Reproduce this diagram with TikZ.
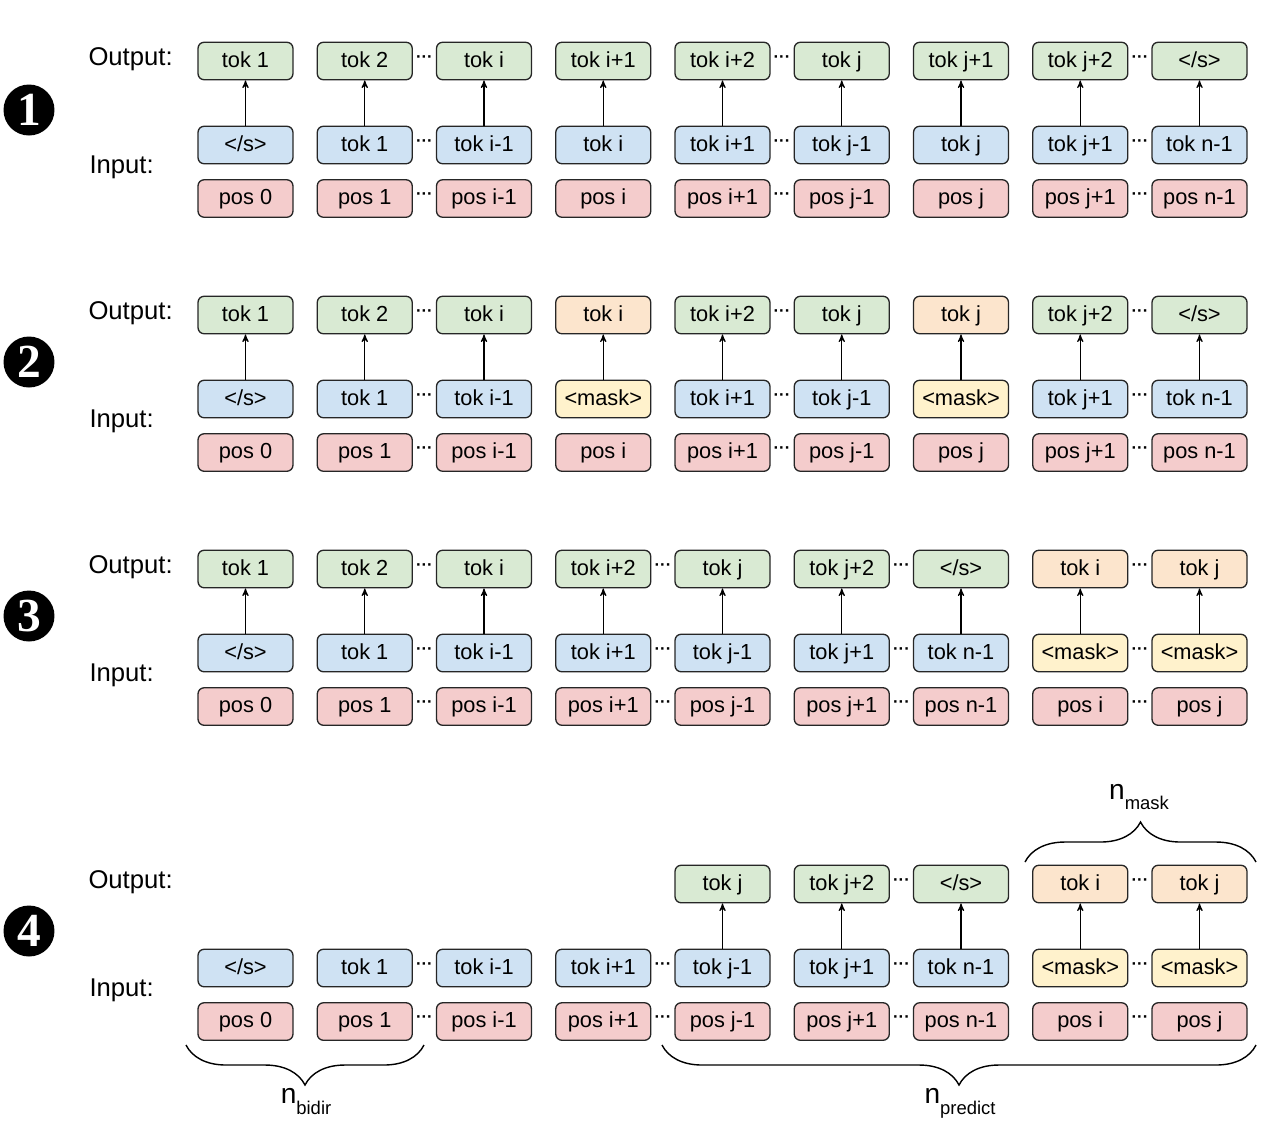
\documentclass[tikz,border=0pt]{standalone}
\usepackage{fontspec}
\setmainfont{Liberation Sans}
\newfontfamily\numfont{Liberation Serif}
\usepackage{tikz}
\usetikzlibrary{positioning, arrows, shapes.geometric, decorations.pathreplacing}
\usepackage{xcolor}
\definecolor{outgreen}{HTML}{D9EAD3}
\definecolor{tokblue}{HTML}{CFE2F3}
\definecolor{pospink}{HTML}{F4CCCC}
\definecolor{predorange}{HTML}{FCE5CD}
\definecolor{maskyellow}{HTML}{FFF2CC}

\begin{document}
\begin{tikzpicture}
		[->,>=stealth',semithick,x=0.02cm,y=-0.02cm,
		box/.style={rectangle,draw=black!85,line width=0.75pt,rounded corners=3.5pt,minimum width=1.9cm,minimum height=0.75cm,inner sep=0pt,text height=0.72em,text depth=0pt,font=\fontsize{12.4}{14}\selectfont},
		outbox/.style={box,fill=outgreen},
		inbox/.style={box,fill=tokblue},
		posbox/.style={box,fill=pospink},
		predbox/.style={box,fill=predorange},
		maskbox/.style={box,fill=maskyellow},
		dots/.style={inner sep=0pt,font=\bfseries\fontsize{9.5}{9.5}\selectfont},
		rowlabel/.style={anchor=base west,inner sep=0pt,font=\fontsize{14.6}{17}\selectfont},
		numdot/.style={circle,fill=black,minimum size=1.02cm,inner sep=0pt,text=white,font=\numfont\bfseries\fontsize{27}{27}\selectfont},
		sublabel/.style={anchor=base,font=\fontsize{16}{18}\selectfont},
		bracket/.style={-,decorate,decoration={brace,amplitude=0.8cm},line width=0.8pt}]
		\useasboundingbox (0,0) rectangle (1266,1127);
		
		% panel 1
		\node[numdot] (n1) at (29, 110) {1};
		\node[rowlabel] (lo1) at (88, 65.5) {Output:};
		\node[rowlabel] (li1) at (89, 173) {Input:};
		\node[outbox] (o1-1) at (245.5, 61) {tok 1};
		\node[outbox] (o1-2) at (364.75, 61) {tok 2};
		\node[outbox] (o1-3) at (484, 61) {tok i};
		\node[outbox] (o1-4) at (603.25, 61) {tok i+1};
		\node[outbox] (o1-5) at (722.5, 61) {tok i+2};
		\node[outbox] (o1-6) at (841.75, 61) {tok j};
		\node[outbox] (o1-7) at (961, 61) {tok j+1};
		\node[outbox] (o1-8) at (1080.25, 61) {tok j+2};
		\node[outbox] (o1-9) at (1199.5, 61) {</s>};
		\node[inbox] (t1-1) at (245.5, 145) {</s>};
		\node[inbox] (t1-2) at (364.75, 145) {tok 1};
		\node[inbox] (t1-3) at (484, 145) {tok i-1};
		\node[inbox] (t1-4) at (603.25, 145) {tok i};
		\node[inbox] (t1-5) at (722.5, 145) {tok i+1};
		\node[inbox] (t1-6) at (841.75, 145) {tok j-1};
		\node[inbox] (t1-7) at (961, 145) {tok j};
		\node[inbox] (t1-8) at (1080.25, 145) {tok j+1};
		\node[inbox] (t1-9) at (1199.5, 145) {tok n-1};
		\node[posbox] (p1-1) at (245.5, 198.5) {pos 0};
		\node[posbox] (p1-2) at (364.75, 198.5) {pos 1};
		\node[posbox] (p1-3) at (484, 198.5) {pos i-1};
		\node[posbox] (p1-4) at (603.25, 198.5) {pos i};
		\node[posbox] (p1-5) at (722.5, 198.5) {pos i+1};
		\node[posbox] (p1-6) at (841.75, 198.5) {pos j-1};
		\node[posbox] (p1-7) at (961, 198.5) {pos j};
		\node[posbox] (p1-8) at (1080.25, 198.5) {pos j+1};
		\node[posbox] (p1-9) at (1199.5, 198.5) {pos n-1};
		\node[dots] (d1o1) at (424.4, 59) {···};
		\node[dots] (d1o2) at (782, 59) {···};
		\node[dots] (d1o3) at (1140, 59) {···};
		\node[dots] (d1t1) at (424.4, 143) {···};
		\node[dots] (d1t2) at (782, 143) {···};
		\node[dots] (d1t3) at (1140, 143) {···};
		\node[dots] (d1p1) at (424.4, 196.5) {···};
		\node[dots] (d1p2) at (782, 196.5) {···};
		\node[dots] (d1p3) at (1140, 196.5) {···};
		
		\path (t1-1) edge (o1-1);
		\path (t1-2) edge (o1-2);
		\path (t1-3) edge (o1-3);
		\path (t1-4) edge (o1-4);
		\path (t1-5) edge (o1-5);
		\path (t1-6) edge (o1-6);
		\path (t1-7) edge (o1-7);
		\path (t1-8) edge (o1-8);
		\path (t1-9) edge (o1-9);
		
		% panel 2
		\node[numdot] (n2) at (29, 362) {2};
		\node[rowlabel] (lo2) at (88, 319.5) {Output:};
		\node[rowlabel] (li2) at (89, 427) {Input:};
		\node[outbox] (o2-1) at (245.5, 315) {tok 1};
		\node[outbox] (o2-2) at (364.75, 315) {tok 2};
		\node[outbox] (o2-3) at (484, 315) {tok i};
		\node[predbox] (o2-4) at (603.25, 315) {tok i};
		\node[outbox] (o2-5) at (722.5, 315) {tok i+2};
		\node[outbox] (o2-6) at (841.75, 315) {tok j};
		\node[predbox] (o2-7) at (961, 315) {tok j};
		\node[outbox] (o2-8) at (1080.25, 315) {tok j+2};
		\node[outbox] (o2-9) at (1199.5, 315) {</s>};
		\node[inbox] (t2-1) at (245.5, 399) {</s>};
		\node[inbox] (t2-2) at (364.75, 399) {tok 1};
		\node[inbox] (t2-3) at (484, 399) {tok i-1};
		\node[maskbox] (t2-4) at (603.25, 399) {<mask>};
		\node[inbox] (t2-5) at (722.5, 399) {tok i+1};
		\node[inbox] (t2-6) at (841.75, 399) {tok j-1};
		\node[maskbox] (t2-7) at (961, 399) {<mask>};
		\node[inbox] (t2-8) at (1080.25, 399) {tok j+1};
		\node[inbox] (t2-9) at (1199.5, 399) {tok n-1};
		\node[posbox] (p2-1) at (245.5, 452.5) {pos 0};
		\node[posbox] (p2-2) at (364.75, 452.5) {pos 1};
		\node[posbox] (p2-3) at (484, 452.5) {pos i-1};
		\node[posbox] (p2-4) at (603.25, 452.5) {pos i};
		\node[posbox] (p2-5) at (722.5, 452.5) {pos i+1};
		\node[posbox] (p2-6) at (841.75, 452.5) {pos j-1};
		\node[posbox] (p2-7) at (961, 452.5) {pos j};
		\node[posbox] (p2-8) at (1080.25, 452.5) {pos j+1};
		\node[posbox] (p2-9) at (1199.5, 452.5) {pos n-1};
		\node[dots] (d2o1) at (424.4, 313) {···};
		\node[dots] (d2o2) at (782, 313) {···};
		\node[dots] (d2o3) at (1140, 313) {···};
		\node[dots] (d2t1) at (424.4, 397) {···};
		\node[dots] (d2t2) at (782, 397) {···};
		\node[dots] (d2t3) at (1140, 397) {···};
		\node[dots] (d2p1) at (424.4, 450.5) {···};
		\node[dots] (d2p2) at (782, 450.5) {···};
		\node[dots] (d2p3) at (1140, 450.5) {···};
		
		\path (t2-1) edge (o2-1);
		\path (t2-2) edge (o2-2);
		\path (t2-3) edge (o2-3);
		\path (t2-4) edge (o2-4);
		\path (t2-5) edge (o2-5);
		\path (t2-6) edge (o2-6);
		\path (t2-7) edge (o2-7);
		\path (t2-8) edge (o2-8);
		\path (t2-9) edge (o2-9);
		
		% panel 3
		\node[numdot] (n3) at (29, 616) {3};
		\node[rowlabel] (lo3) at (88, 573.5) {Output:};
		\node[rowlabel] (li3) at (89, 681) {Input:};
		\node[outbox] (o3-1) at (245.5, 569) {tok 1};
		\node[outbox] (o3-2) at (364.75, 569) {tok 2};
		\node[outbox] (o3-3) at (484, 569) {tok i};
		\node[outbox] (o3-4) at (603.25, 569) {tok i+2};
		\node[outbox] (o3-5) at (722.5, 569) {tok j};
		\node[outbox] (o3-6) at (841.75, 569) {tok j+2};
		\node[outbox] (o3-7) at (961, 569) {</s>};
		\node[predbox] (o3-8) at (1080.25, 569) {tok i};
		\node[predbox] (o3-9) at (1199.5, 569) {tok j};
		\node[inbox] (t3-1) at (245.5, 653) {</s>};
		\node[inbox] (t3-2) at (364.75, 653) {tok 1};
		\node[inbox] (t3-3) at (484, 653) {tok i-1};
		\node[inbox] (t3-4) at (603.25, 653) {tok i+1};
		\node[inbox] (t3-5) at (722.5, 653) {tok j-1};
		\node[inbox] (t3-6) at (841.75, 653) {tok j+1};
		\node[inbox] (t3-7) at (961, 653) {tok n-1};
		\node[maskbox] (t3-8) at (1080.25, 653) {<mask>};
		\node[maskbox] (t3-9) at (1199.5, 653) {<mask>};
		\node[posbox] (p3-1) at (245.5, 706.5) {pos 0};
		\node[posbox] (p3-2) at (364.75, 706.5) {pos 1};
		\node[posbox] (p3-3) at (484, 706.5) {pos i-1};
		\node[posbox] (p3-4) at (603.25, 706.5) {pos i+1};
		\node[posbox] (p3-5) at (722.5, 706.5) {pos j-1};
		\node[posbox] (p3-6) at (841.75, 706.5) {pos j+1};
		\node[posbox] (p3-7) at (961, 706.5) {pos n-1};
		\node[posbox] (p3-8) at (1080.25, 706.5) {pos i};
		\node[posbox] (p3-9) at (1199.5, 706.5) {pos j};
		\node[dots] (d3o1) at (424.4, 567) {···};
		\node[dots] (d3o2) at (663, 567) {···};
		\node[dots] (d3o3) at (901.5, 567) {···};
		\node[dots] (d3o4) at (1140, 567) {···};
		\node[dots] (d3t1) at (424.4, 651) {···};
		\node[dots] (d3t2) at (663, 651) {···};
		\node[dots] (d3t3) at (901.5, 651) {···};
		\node[dots] (d3t4) at (1140, 651) {···};
		\node[dots] (d3p1) at (424.4, 704.5) {···};
		\node[dots] (d3p2) at (663, 704.5) {···};
		\node[dots] (d3p3) at (901.5, 704.5) {···};
		\node[dots] (d3p4) at (1140, 704.5) {···};
		
		\path (t3-1) edge (o3-1);
		\path (t3-2) edge (o3-2);
		\path (t3-3) edge (o3-3);
		\path (t3-4) edge (o3-4);
		\path (t3-5) edge (o3-5);
		\path (t3-6) edge (o3-6);
		\path (t3-7) edge (o3-7);
		\path (t3-8) edge (o3-8);
		\path (t3-9) edge (o3-9);
		
		% panel 4
		\node[numdot] (n4) at (29, 931) {4};
		\node[rowlabel] (lo4) at (88, 888.5) {Output:};
		\node[rowlabel] (li4) at (89, 996) {Input:};
		\node[outbox] (o4-5) at (722.5, 884) {tok j};
		\node[outbox] (o4-6) at (841.75, 884) {tok j+2};
		\node[outbox] (o4-7) at (961, 884) {</s>};
		\node[predbox] (o4-8) at (1080.25, 884) {tok i};
		\node[predbox] (o4-9) at (1199.5, 884) {tok j};
		\node[inbox] (t4-1) at (245.5, 968) {</s>};
		\node[inbox] (t4-2) at (364.75, 968) {tok 1};
		\node[inbox] (t4-3) at (484, 968) {tok i-1};
		\node[inbox] (t4-4) at (603.25, 968) {tok i+1};
		\node[inbox] (t4-5) at (722.5, 968) {tok j-1};
		\node[inbox] (t4-6) at (841.75, 968) {tok j+1};
		\node[inbox] (t4-7) at (961, 968) {tok n-1};
		\node[maskbox] (t4-8) at (1080.25, 968) {<mask>};
		\node[maskbox] (t4-9) at (1199.5, 968) {<mask>};
		\node[posbox] (p4-1) at (245.5, 1021.5) {pos 0};
		\node[posbox] (p4-2) at (364.75, 1021.5) {pos 1};
		\node[posbox] (p4-3) at (484, 1021.5) {pos i-1};
		\node[posbox] (p4-4) at (603.25, 1021.5) {pos i+1};
		\node[posbox] (p4-5) at (722.5, 1021.5) {pos j-1};
		\node[posbox] (p4-6) at (841.75, 1021.5) {pos j+1};
		\node[posbox] (p4-7) at (961, 1021.5) {pos n-1};
		\node[posbox] (p4-8) at (1080.25, 1021.5) {pos i};
		\node[posbox] (p4-9) at (1199.5, 1021.5) {pos j};
		\node[dots] (d4o1) at (901.5, 882) {···};
		\node[dots] (d4o2) at (1140, 882) {···};
		\node[dots] (d4t1) at (424.4, 966) {···};
		\node[dots] (d4t2) at (663, 966) {···};
		\node[dots] (d4t3) at (901.5, 966) {···};
		\node[dots] (d4t4) at (1140, 966) {···};
		\node[dots] (d4p1) at (424.4, 1019.5) {···};
		\node[dots] (d4p2) at (663, 1019.5) {···};
		\node[dots] (d4p3) at (901.5, 1019.5) {···};
		\node[dots] (d4p4) at (1140, 1019.5) {···};
		
		\path (t4-5) edge (o4-5);
		\path (t4-6) edge (o4-6);
		\path (t4-7) edge (o4-7);
		\path (t4-8) edge (o4-8);
		\path (t4-9) edge (o4-9);
		
		% braces
		\coordinate (mask-l) at (1025, 862);
		\coordinate (mask-r) at (1256, 862);
		\coordinate (bidir-l) at (186, 1045);
		\coordinate (bidir-r) at (424, 1045);
		\coordinate (pred-l) at (662, 1045);
		\coordinate (pred-r) at (1256, 1045);
		\draw[bracket] (mask-l) -- (mask-r);
		\draw[bracket] (bidir-r) -- (bidir-l);
		\draw[bracket] (pred-r) -- (pred-l);
		\node[sublabel] (nmask) at (1139, 799) {n\raisebox{-6pt}{\fontsize{10.5}{12}\selectfont mask}};
		\node[sublabel] (nbidir) at (306, 1103) {n\raisebox{-6.5pt}{\fontsize{10.5}{12}\selectfont bidir}};
		\node[sublabel] (npred) at (960, 1103) {n\raisebox{-6.5pt}{\fontsize{10.5}{12}\selectfont predict}};
		
	\end{tikzpicture}
\end{document}
